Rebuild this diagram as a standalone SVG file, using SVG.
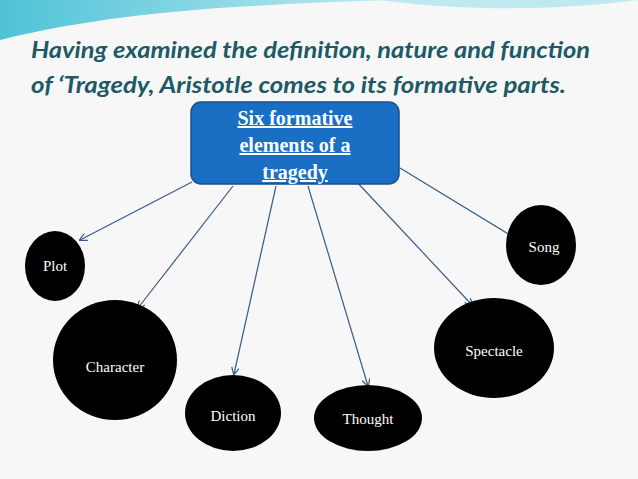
<svg xmlns="http://www.w3.org/2000/svg" width="638" height="479" viewBox="0 0 638 479">
<defs>
<marker id="a" markerWidth="8" markerHeight="8" refX="7" refY="4" orient="auto" markerUnits="userSpaceOnUse"><path d="M0,0 L8,4 L0,8" fill="none" stroke="#3a5a8a" stroke-width="1.2"/></marker>
<linearGradient id="w" x1="0" x2="1"><stop offset="0" stop-color="#4ec3d6"/><stop offset="1" stop-color="#bfe9f1"/></linearGradient>
</defs>
<style>
.t{font-family:Lato,"Liberation Sans",sans-serif;font-weight:bold;font-style:italic;font-size:23px;fill:#1d5a66}
.n{fill:#000}
.l{font-family:"Liberation Serif",serif;font-size:15px;fill:#fff;text-anchor:middle}
.c{stroke:#3a5a8a;stroke-width:1.2;fill:none;marker-end:url(#a)}
</style>
<rect width="638" height="479" fill="#f7f7f7"/>
<path d="M0,0 H390 C250,5 120,10 0,40 Z" fill="url(#w)"/>
<path d="M380,0 H638 V0 C560,10 470,12 380,0 Z" fill="#bfe9f1"/>
<text class="t" x="31" y="58" textLength="559" lengthAdjust="spacingAndGlyphs">Having examined the definition, nature and function</text>
<text class="t" x="31" y="93" textLength="535" lengthAdjust="spacingAndGlyphs">of ‘Tragedy, Aristotle comes to its formative parts.</text>
<g id="connectors">
<line class="c" x1="192" y1="182" x2="80" y2="240"/>
<line class="c" x1="233" y1="186" x2="138" y2="308"/>
<line class="c" x1="276" y1="186" x2="234" y2="374"/>
<line class="c" x1="308" y1="186" x2="368" y2="386"/>
<line class="c" x1="355" y1="180" x2="472" y2="305"/>
<line class="c" x1="400" y1="168" x2="515" y2="238"/>
</g>
<g id="root">
<rect x="191" y="102" width="208" height="82" rx="10" fill="#1a6fc4" stroke="#1d4f8a" stroke-width="1.5"/>
<g font-family="Liberation Serif,serif" font-size="20" font-weight="bold" fill="#fff" text-anchor="middle">
<text x="295" y="125" text-decoration="underline">Six formative</text>
<text x="295" y="152" text-decoration="underline">elements of a</text>
<text x="295" y="179" text-decoration="underline">tragedy</text>
</g>
</g>
<g id="plot"><ellipse class="n" cx="55" cy="266" rx="30" ry="35"/><text class="l" x="55" y="271">Plot</text></g>
<g id="character"><ellipse class="n" cx="115" cy="360" rx="62" ry="60"/><text class="l" x="115" y="372">Character</text></g>
<g id="diction"><ellipse class="n" cx="233" cy="413" rx="48" ry="38"/><text class="l" x="233" y="421">Diction</text></g>
<g id="thought"><ellipse class="n" cx="368" cy="418" rx="54" ry="33"/><text class="l" x="368" y="424">Thought</text></g>
<g id="spectacle"><ellipse class="n" cx="494" cy="348" rx="60" ry="50"/><text class="l" x="494" y="356">Spectacle</text></g>
<g id="song"><ellipse class="n" cx="541" cy="245" rx="35" ry="40"/><text class="l" x="544" y="252">Song</text></g>
</svg>
